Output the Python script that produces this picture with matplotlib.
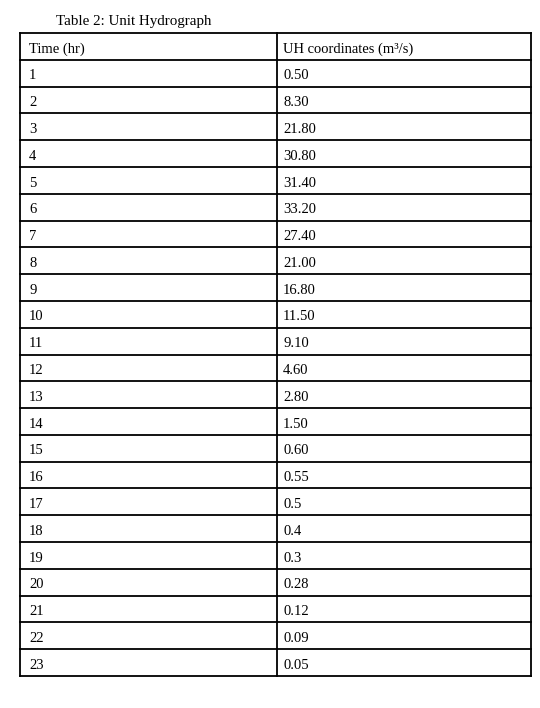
import matplotlib
matplotlib.use("Agg")
import matplotlib.pyplot as plt

title = "Table 2: Unit Hydrograph"
headers = ["Time (hr)", "UH coordinates (m³/s)"]
times = [str(i) for i in range(1, 24)]
uh = ["0.50", "8.30", "21.80", "30.80", "31.40", "33.20", "27.40", "21.00", "16.80",
      "11.50", "9.10", "4.60", "2.80", "1.50", "0.60", "0.55", "0.5", "0.4", "0.3",
      "0.28", "0.12", "0.09", "0.05"]

W, H = 540, 708
fig = plt.figure(figsize=(W/100, H/100), dpi=100)
ax = fig.add_axes([0, 0, 1, 1])
ax.set_xlim(0, W); ax.set_ylim(H, 0); ax.axis("off")

left, mid, right = 20, 277, 531
top, bottom = 33, 676
n = len(times) + 1
rh = (bottom - top) / n
lw = 1.3
for i in range(n + 1):
    y = top + i * rh
    ax.plot([left, right], [y, y], color="black", lw=lw, solid_capstyle="projecting")
for x in (left, mid, right):
    ax.plot([x, x], [top, bottom], color="black", lw=lw)

fs = 10.5
fam = ["Liberation Serif", "DejaVu Serif"]
ax.text(56, 21, title, fontsize=fs + 0.3, va="center", ha="left", family=fam)
rows = [headers] + [[t, u] for t, u in zip(times, uh)]
for i, (a, b) in enumerate(rows):
    yc = top + (i + 0.6) * rh
    ax.text(29, yc, a, fontsize=fs, va="center", ha="left", family=fam)
    ax.text(283, yc, b, fontsize=fs, va="center", ha="left", family=fam)

fig.savefig("out.png", dpi=100)
